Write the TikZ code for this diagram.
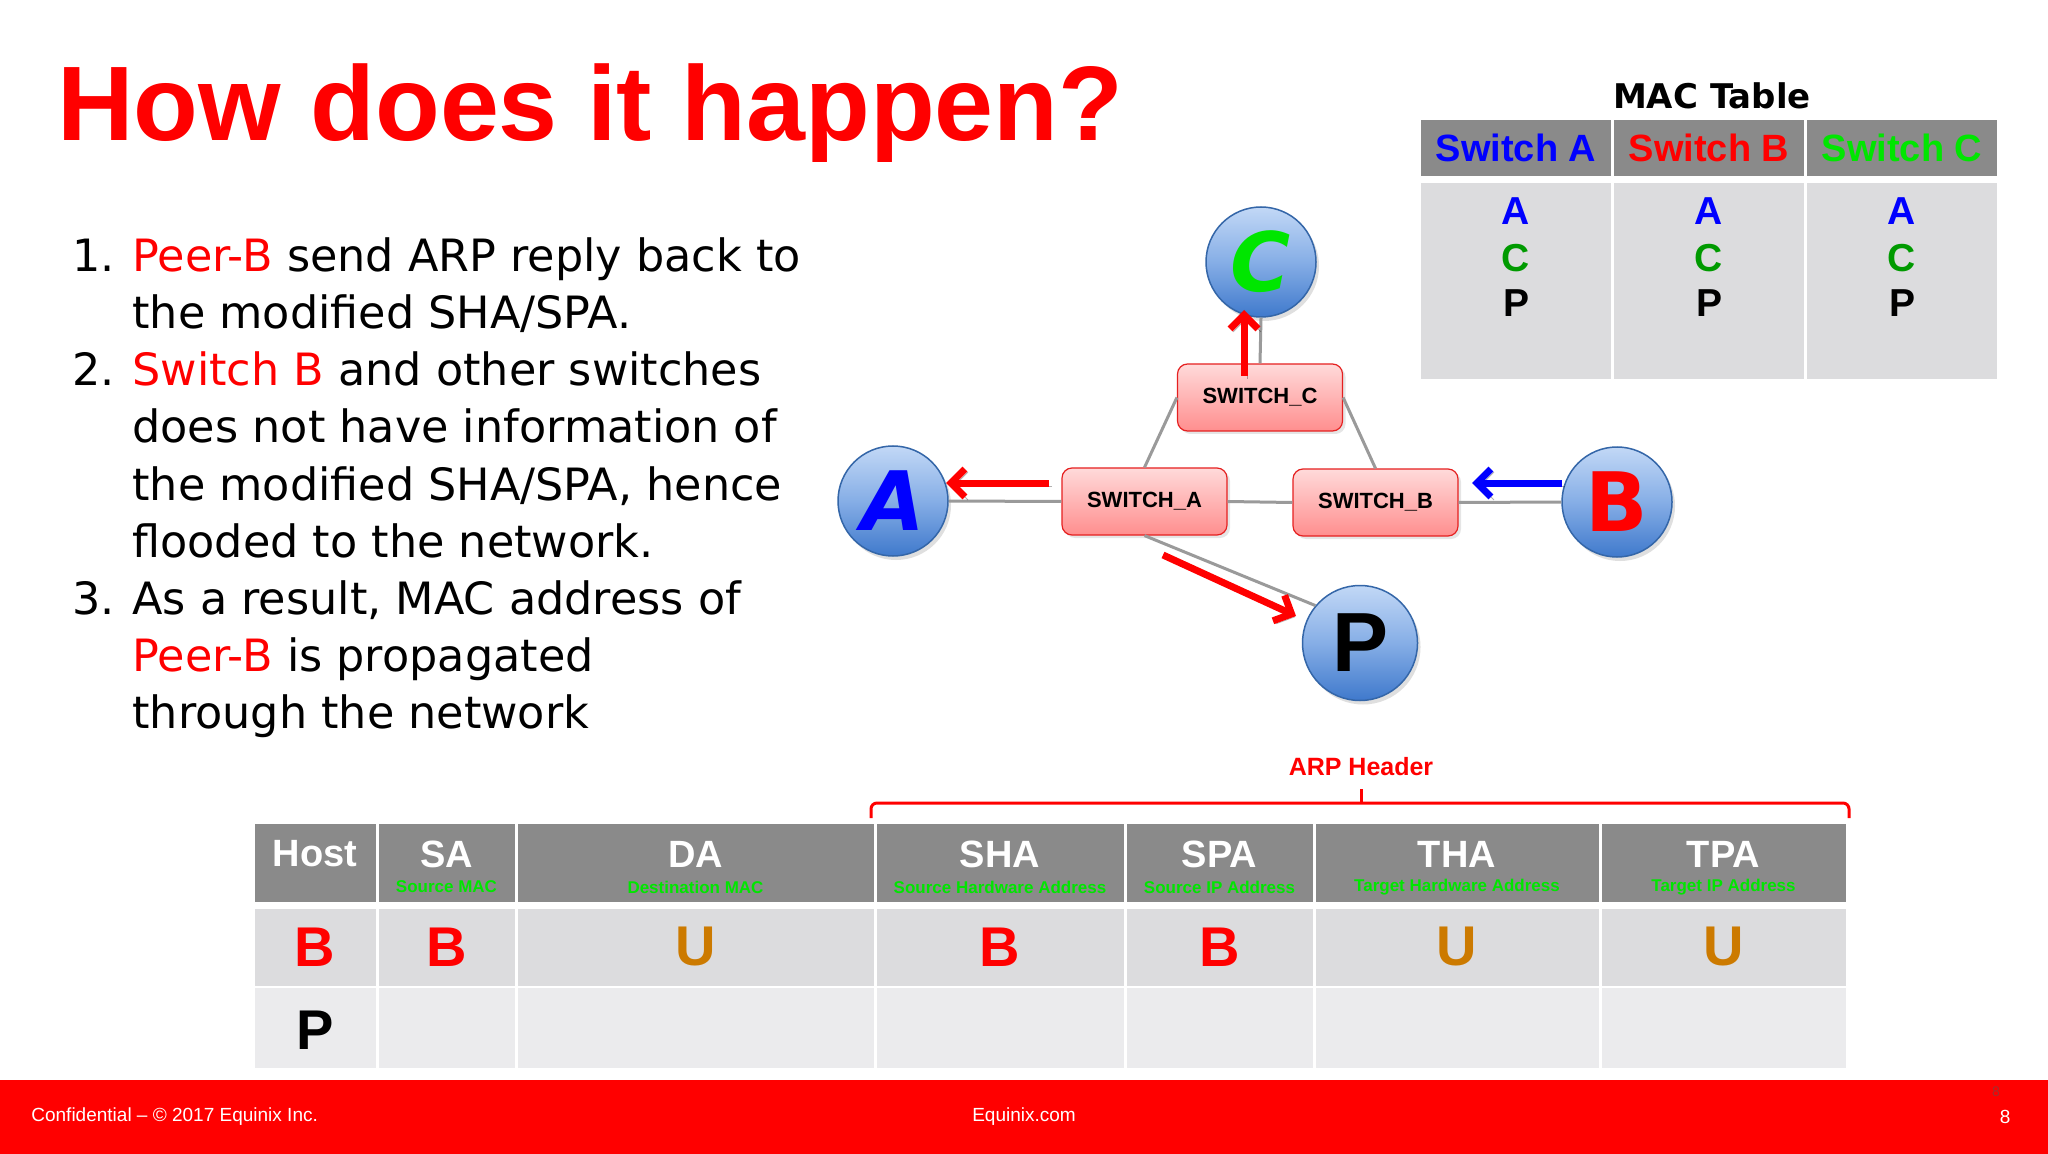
\documentclass[tikz,border=0pt]{standalone}
\usepackage{fontspec}
\setmainfont{Liberation Sans}
\newfontfamily\comicf{DejaVu Sans}
\usetikzlibrary{arrows.meta,shadows}
\definecolor{hdrgray}{HTML}{8A8A8A}
\definecolor{cellgray}{HTML}{DCDCDE}
\definecolor{cellgrayb}{HTML}{EBEBED}
\definecolor{ured}{HTML}{FF0000}
\definecolor{ublue}{HTML}{0000FF}
\definecolor{ugreen}{HTML}{00E600}
\definecolor{dgreen}{HTML}{009A00}
\definecolor{uorange}{HTML}{CC7A00}
\definecolor{linegray}{HTML}{9A9A9A}
\definecolor{boxtop}{HTML}{FFDADA}
\definecolor{boxbot}{HTML}{FF8E8E}
\definecolor{boxdraw}{HTML}{E52020}
\definecolor{ctop}{HTML}{C2D8F6}
\definecolor{cmid}{HTML}{86AEE6}
\definecolor{cbot}{HTML}{3F79CC}
\definecolor{cdraw}{HTML}{3466A8}
\definecolor{faint}{HTML}{A03030}
\newcommand\fsz[1]{\fontsize{#1}{#1}\selectfont}
\begin{document}
\begin{tikzpicture}[x=0.5pt,y=-0.5pt,
  lst/.style={anchor=base west, inner sep=0, font=\comicf\fsz{22.25pt}},
  machdr/.style={fill=hdrgray, minimum width=95pt, minimum height=28pt, inner sep=0, font=\bfseries\fsz{19pt}},
  macbody/.style={fill=cellgray, minimum width=95pt, minimum height=98pt, inner sep=0},
  macval/.style={inner sep=0, font=\bfseries\fsz{19.5pt}},
  circ/.style={circle, minimum size=55pt, inner sep=0, draw=cdraw, line width=0.75pt,
    top color=ctop, bottom color=cbot, middle color=cmid,
    drop shadow={opacity=0.25, shadow xshift=1.5pt, shadow yshift=-2pt}},
  swbox/.style={rectangle, rounded corners=5pt, minimum width=82.5pt, minimum height=33.5pt,
    draw=boxdraw, line width=0.6pt, top color=boxtop, bottom color=boxbot,
    font=\bfseries\fsz{11pt}, inner sep=0,
    drop shadow={opacity=0.2, shadow xshift=1.5pt, shadow yshift=-1.5pt}},
  link/.style={draw=linegray, line width=1.5pt},
  flow/.style={line width=3.5pt, -{Straight Barb[length=7pt,width=14pt]},
    preaction={draw=black, opacity=0.3, transform canvas={shift={(1.5pt,-1.5pt)}}}},
  hcell/.style={fill=hdrgray, minimum height=39pt, inner sep=0},
  rcell/.style={fill=cellgray, minimum height=38.5pt, inner sep=0},
  qcell/.style={fill=cellgrayb, minimum height=40pt, inner sep=0},
  hlab/.style={inner sep=0, text=white, font=\bfseries\fsz{19pt}},
  slab/.style={inner sep=0, text=ugreen, font=\bfseries\fsz{8.5pt}},
  val/.style={inner sep=0, font=\bfseries\fsz{28pt}},
  foot/.style={inner sep=0, text=white, font=\fsz{9.5pt}}
]
\useasboundingbox (0,0) rectangle (2048,1154);
\fill[white] (0,0) rectangle (2048,1154);

% title
\node[anchor=base west, inner sep=0, text=ured, font=\bfseries\fsz{53pt}] (title) at (57,141) {How does it happen?};

% list
\node[lst] (n1) at (72,272) {1.};
\node[lst] (l1) at (132,272) {\textcolor{ured}{Peer-B} send ARP reply back to};
\node[lst] (l2) at (132,329) {the modified SHA/SPA.};
\node[lst] (n2) at (72,386) {2.};
\node[lst] (l3) at (132,386) {\textcolor{ured}{Switch B} and other switches};
\node[lst] (l4) at (132,443) {does not have information of};
\node[lst] (l5) at (132,500) {the modified SHA/SPA, hence};
\node[lst] (l6) at (132,557) {flooded to the network.};
\node[lst] (n3) at (72,614) {3.};
\node[lst] (l7) at (132,614) {As a result, MAC address of};
\node[lst] (l8) at (132,671) {\textcolor{ured}{Peer-B} is propagated};
\node[lst] (l9) at (132,728) {through the network};

% MAC table
\node[inner sep=0, font=\comicf\bfseries\fsz{17pt}] (mactitle) at (1712,96) {MAC Table};
\node[machdr, text=ublue] (hA) at (1516,148) {Switch A};
\node[machdr, text=ured] (hB) at (1709,148) {Switch B};
\node[machdr, text=ugreen] (hC) at (1902,148) {Switch C};
\node[macbody] (bA) at (1516,281) {};
\node[macbody] (bB) at (1709,281) {};
\node[macbody] (bC) at (1902,281) {};
\foreach \cx/\nm in {1516/A,1709/B,1902/C}{
  \node[macval, text=ublue] (va\nm) at (\cx,211) {A};
  \node[macval, text=dgreen] (vc\nm) at (\cx,258) {C};
  \node[macval, text=black] (vp\nm) at (\cx,303) {P};
}

% network nodes
\node[swbox] (swc) at (1260,397.5) {SWITCH\_C};
\node[swbox] (swa) at (1144.5,501.5) {SWITCH\_A};
\node[swbox] (swb) at (1375.5,502.5) {SWITCH\_B};
\node[circ, text=ugreen, font=\comicf\bfseries\itshape\fsz{41pt}] (c) at (1261,262) {C};
\node[circ, text=ublue, font=\comicf\bfseries\itshape\fsz{41pt}] (a) at (893,501) {A};
\node[circ, text=ured, font=\comicf\bfseries\fsz{41pt}] (b) at (1617,502) {B};
\node[circ, minimum size=57.5pt, text=black, font=\bfseries\fsz{42pt}] (p) at (1360,643) {P};

% links
\draw[link] (swa.east) -- (swb.west);
\draw[link] (swa.north) -- (swc.west);
\draw[link] (swb.north) -- (swc.east);
\draw[link] (swc.north) -- (c.south);
\draw[link] (a.east) -- (swa.west);
\draw[link] (swb.east) -- (b.west);
\draw[link] (swa.south) -- (p.140);

% flow arrows
\coordinate (upS) at (1244,376); \coordinate (upE) at (1244,310);
\coordinate (lfS) at (1049,483); \coordinate (lfE) at (946,483);
\coordinate (blS) at (1562,483); \coordinate (blE) at (1472,483);
\coordinate (dgS) at (1163,555); \coordinate (dgE) at (1296,616);
\draw[flow, ured] (upS) -- (upE);
\draw[flow, ured] (lfS) -- (lfE);
\draw[flow, ublue] (blS) -- (blE);
\draw[flow, ured] (dgS) -- (dgE);

% ARP header bracket
\coordinate (brL) at (871,818); \coordinate (brLT) at (871,803);
\coordinate (brR) at (1849,818); \coordinate (brRT) at (1849,803);
\coordinate (brM) at (1361,803); \coordinate (brT) at (1361,789);
\draw[ured, line width=1.5pt, rounded corners=3pt] (brL) -- (brLT) -- (brRT) -- (brR);
\draw[ured, line width=1.5pt] (brM) -- (brT);
\node[inner sep=0, text=ured, font=\bfseries\fsz{12.5pt}] (arp) at (1361,767) {ARP Header};

% bottom table
\foreach \nm/\cx/\w in {Host/315/60.5, SA/446.5/68, DA/695.5/178, SHA/1000/123.5, SPA/1219.5/93, THA/1457/141.5, TPA/1723.5/122}{
  \node[hcell, minimum width=\w pt] (h\nm) at (\cx,863) {};
  \node[rcell, minimum width=\w pt] (r\nm) at (\cx,947) {};
  \node[qcell, minimum width=\w pt] (q\nm) at (\cx,1028) {};
  \node[hlab] (t\nm) at (\cx,854) {\nm};
}
\node[slab] (sSA) at (446.5,887) {Source MAC};
\node[slab] (sDA) at (695.5,887) {Destination MAC};
\node[slab] (sSHA) at (1000,887) {Source Hardware Address};
\node[slab] (sSPA) at (1219.5,887) {Source IP Address};
\node[slab] (sTHA) at (1457,887) {Target Hardware Address};
\node[slab] (sTPA) at (1723.5,887) {Target IP Address};
\node[val, text=ured] (vHost) at (315,947) {B};
\node[val, text=ured] (vSA) at (446.5,947) {B};
\node[val, text=uorange] (vDA) at (695.5,947) {U};
\node[val, text=ured] (vSHA) at (1000,947) {B};
\node[val, text=ured] (vSPA) at (1219.5,947) {B};
\node[val, text=uorange] (vTHA) at (1457,947) {U};
\node[val, text=uorange] (vTPA) at (1723.5,947) {U};
\node[val, text=black] (pHost) at (315,1030) {P};

% footer
\fill[ured] (0,1080) rectangle (2048,1154);
\node[foot, anchor=west] (conf) at (31,1117) {Confidential – © 2017 Equinix Inc.};
\node[foot] (web) at (1024,1117) {Equinix.com};
\node[foot] (pg) at (2005,1117) {8};
\node[inner sep=0, text=faint, font=\fsz{7pt}] (pgs) at (1996,1092) {8};
\end{tikzpicture}
\end{document}
